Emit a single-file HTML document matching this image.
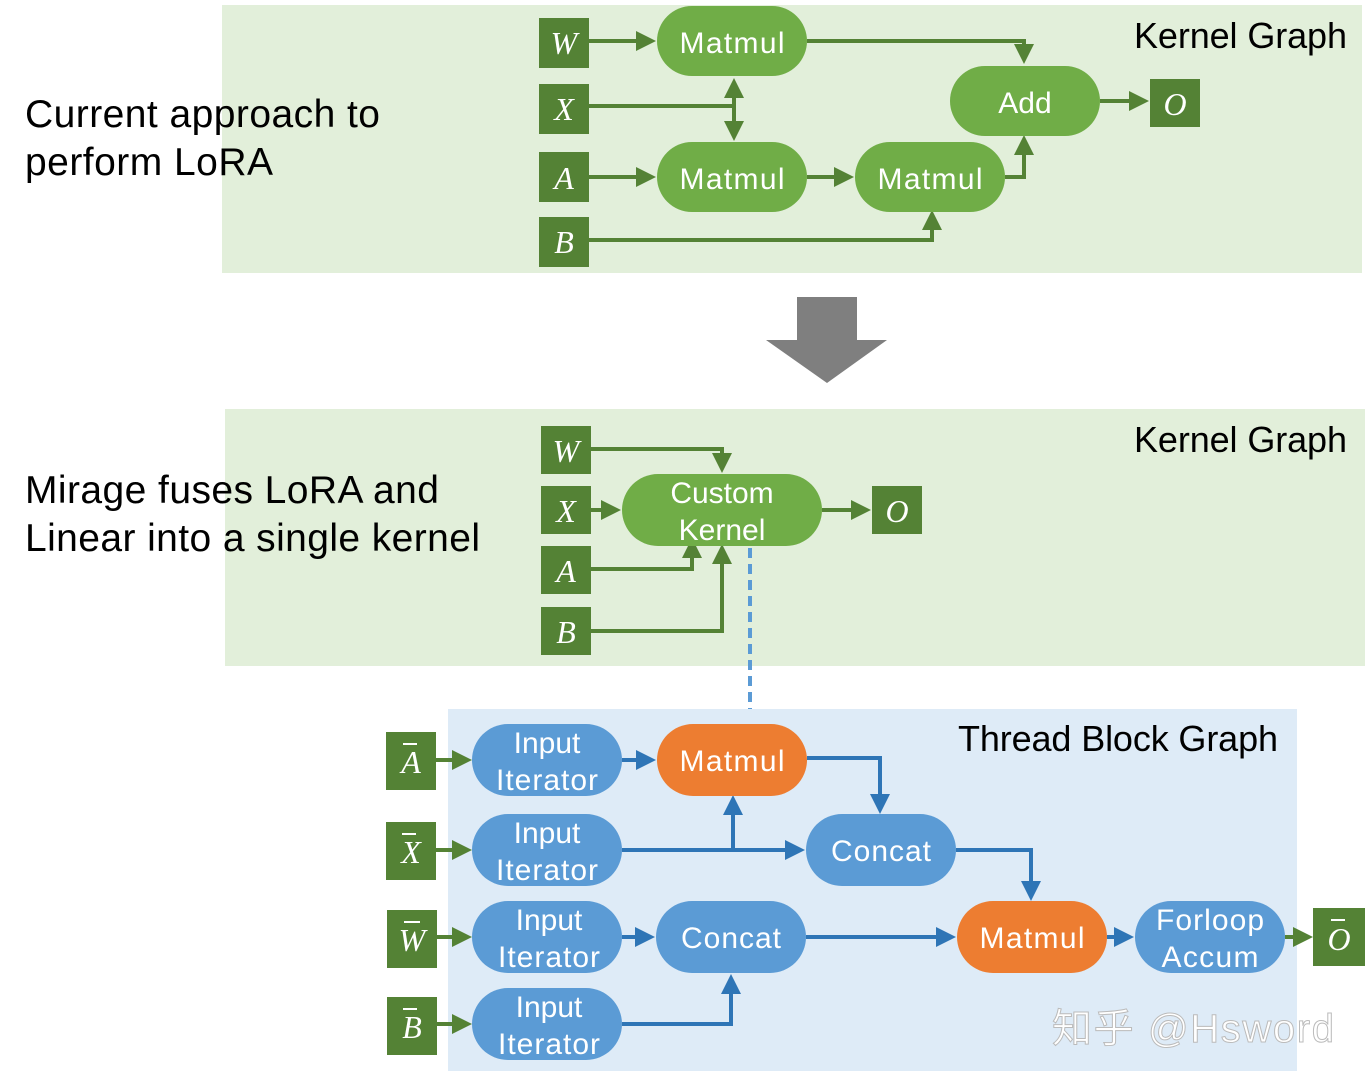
<!DOCTYPE html>
<html><head><meta charset="utf-8"><style>
html,body{margin:0;padding:0;background:#fff;}
svg{display:block;font-family:"Liberation Sans",sans-serif;}
.n{fill:#fff;font-size:30px;text-anchor:middle;}
.v{fill:#fff;font-family:"Liberation Serif",serif;font-style:italic;font-size:32px;text-anchor:middle;}
.t{fill:#000;font-size:36px;}
.l{fill:#000;font-size:39px;}
</style></head><body>
<svg width="1372" height="1084" viewBox="0 0 1372 1084" xmlns="http://www.w3.org/2000/svg">
<defs>
<marker id="g" markerWidth="5" markerHeight="5" refX="4" refY="2.5" orient="auto" markerUnits="strokeWidth"><path d="M0,0L5,2.5L0,5z" fill="#548235"/></marker>
<marker id="b" markerWidth="5" markerHeight="5" refX="4" refY="2.5" orient="auto" markerUnits="strokeWidth"><path d="M0,0L5,2.5L0,5z" fill="#2e75b6"/></marker>
</defs>
<rect x="222" y="5" width="1140" height="268" fill="#e2efda"/>
<rect x="225" y="409" width="1140" height="257" fill="#e2efda"/>
<rect x="448" y="709" width="849" height="362" fill="#deebf7"/>
<text class="l" x="25" y="127" textLength="355">Current approach to</text>
<text class="l" x="25" y="175" textLength="248">perform LoRA</text>
<text class="l" x="25" y="503" textLength="414">Mirage fuses LoRA and</text>
<text class="l" x="25" y="551" textLength="455">Linear into a single kernel</text>
<text class="t" x="1134" y="48" textLength="213">Kernel Graph</text>
<text class="t" x="1134" y="452" textLength="213">Kernel Graph</text>
<text class="t" x="958" y="751" textLength="320">Thread Block Graph</text>
<path d="M797,297H857V340H887L827,383L766,340H797Z" fill="#7f7f7f"/>
<g stroke="#548235" stroke-width="4" fill="none" marker-end="url(#g)">
<path d="M589,41H652"/>
<path d="M589,177H652"/>
<path d="M589,106H734V82"/>
<path d="M734,106V137"/>
<path d="M807,177H850"/>
<path d="M807,41H1024V60"/>
<path d="M1005,177H1024V139"/>
<path d="M589,240H932V214"/>
<path d="M1100,101H1145"/>
</g>
<g fill="#548235">
<rect x="539" y="18" width="50" height="50"/><rect x="539" y="84" width="50" height="50"/>
<rect x="539" y="152" width="50" height="50"/><rect x="539" y="217" width="50" height="50"/>
<rect x="1150" y="79" width="50" height="48"/>
</g>
<g fill="#70ad47">
<rect x="657" y="6" width="150" height="70" rx="35"/>
<rect x="657" y="142" width="150" height="70" rx="35"/>
<rect x="855" y="142" width="150" height="70" rx="35"/>
<rect x="950" y="66" width="150" height="70" rx="35"/>
</g>
<text class="v" x="564" y="54">W</text><text class="v" x="564" y="120">X</text>
<text class="v" x="564" y="189">A</text><text class="v" x="564" y="253">B</text>
<text class="v" x="1175" y="115">O</text>
<text class="n" x="732" y="53" textLength="105">Matmul</text><text class="n" x="732" y="189" textLength="105">Matmul</text>
<text class="n" x="930" y="189" textLength="105">Matmul</text><text class="n" x="1025" y="113">Add</text>
<g stroke="#548235" stroke-width="4" fill="none" marker-end="url(#g)">
<path d="M591,449H722V469"/>
<path d="M591,510H617"/>
<path d="M591,569H692V542"/>
<path d="M591,631H722V548"/>
<path d="M822,510H867"/>
</g>
<g fill="#548235">
<rect x="541" y="426" width="50" height="48"/><rect x="541" y="486" width="50" height="48"/>
<rect x="541" y="546" width="50" height="48"/><rect x="541" y="607" width="50" height="48"/>
<rect x="872" y="486" width="50" height="48"/>
</g>
<rect x="622" y="474" width="200" height="72" rx="36" fill="#70ad47"/>
<text class="v" x="566" y="462">W</text><text class="v" x="566" y="522">X</text>
<text class="v" x="566" y="582">A</text><text class="v" x="566" y="643">B</text>
<text class="v" x="897" y="522">O</text>
<text class="n" x="722" y="503">Custom</text><text class="n" x="722" y="540">Kernel</text>
<path d="M750,548V709" stroke="#5b9bd5" stroke-width="4" stroke-dasharray="10,6"/>
<g stroke="#548235" stroke-width="4" fill="none" marker-end="url(#g)">
<path d="M436,760H468"/><path d="M436,850H468"/><path d="M437,937H468"/><path d="M437,1024H468"/>
<path d="M1285,937H1309"/>
</g>
<g stroke="#2e75b6" stroke-width="4" fill="none" marker-end="url(#b)">
<path d="M622,760H652"/>
<path d="M622,850H801"/>
<path d="M733,850V799"/>
<path d="M807,758H880V810"/>
<path d="M956,850H1031V897"/>
<path d="M622,937H651"/>
<path d="M806,937H952"/>
<path d="M1107,937H1130"/>
<path d="M622,1024H731V978"/>
</g>
<g fill="#548235">
<rect x="386" y="732" width="50" height="58"/><rect x="386" y="822" width="50" height="58"/>
<rect x="387" y="910" width="50" height="58"/><rect x="387" y="997" width="50" height="58"/>
<rect x="1313" y="908" width="52" height="58"/>
</g>
<text class="v" x="411" y="773">A</text><text class="v" x="411" y="863">X</text>
<text class="v" x="412" y="951">W</text><text class="v" x="412" y="1038">B</text>
<text class="v" x="1339" y="950">O</text>
<g stroke="#fff" stroke-width="2">
<path d="M403,744H417M402,834H416M404,922H420M403,1009H417M1331,920H1345"/>
</g>
<g fill="#5b9bd5">
<rect x="472" y="724" width="150" height="72" rx="36"/>
<rect x="472" y="814" width="150" height="72" rx="36"/>
<rect x="472" y="901" width="150" height="72" rx="36"/>
<rect x="472" y="988" width="150" height="72" rx="36"/>
<rect x="806" y="814" width="150" height="72" rx="36"/>
<rect x="656" y="901" width="150" height="72" rx="36"/>
<rect x="1135" y="901" width="150" height="72" rx="36"/>
</g>
<g fill="#ed7d31">
<rect x="657" y="724" width="150" height="72" rx="36"/>
<rect x="957" y="901" width="150" height="72" rx="36"/>
</g>
<text class="n" x="547" y="753">Input</text><text class="n" x="547" y="790" textLength="102">Iterator</text>
<text class="n" x="547" y="843">Input</text><text class="n" x="547" y="880" textLength="102">Iterator</text>
<text class="n" x="549" y="930">Input</text><text class="n" x="549" y="967" textLength="102">Iterator</text>
<text class="n" x="549" y="1017">Input</text><text class="n" x="549" y="1054" textLength="102">Iterator</text>
<text class="n" x="732" y="771" textLength="105">Matmul</text>
<text class="n" x="881" y="861" textLength="100">Concat</text>
<text class="n" x="731" y="948" textLength="100">Concat</text>
<text class="n" x="1032" y="948" textLength="105">Matmul</text>
<text class="n" x="1210" y="930" textLength="108">Forloop</text><text class="n" x="1210" y="967" textLength="97">Accum</text>
<text x="1052" y="1042" font-family="'Liberation Sans','Noto Sans CJK SC',sans-serif" font-size="40" fill="#fff" stroke="#bbb" stroke-width="1" textLength="282">知乎 @Hsword</text>
</svg>
</body></html>
